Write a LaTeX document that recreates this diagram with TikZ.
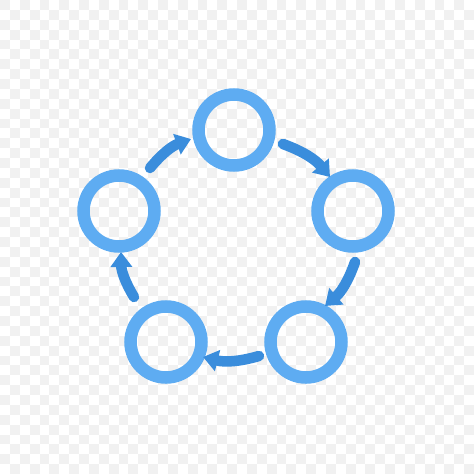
\documentclass[tikz,border=0pt]{standalone}
\usetikzlibrary{arrows.meta}
\definecolor{ringblue}{RGB}{94,172,242}
\definecolor{arrowblue}{RGB}{58,141,220}
\definecolor{checkgray}{RGB}{241,241,241}
\tikzset{
  ring/.style={circle, draw=ringblue, line width=12.5pt, minimum size=71pt, inner sep=0pt, outer sep=0pt},
  flowarrow/.style={draw=arrowblue, line width=10.5pt, line cap=round,
    -{Triangle[width=21pt,length=15pt]}, arrowblue},
}
\begin{document}
\begin{tikzpicture}[x=1pt,y=-1pt]
\useasboundingbox (0,0) rectangle (474,474);
\fill[white] (0,0) rectangle (474,474);
\foreach \i in {0,2,...,46}{
  \foreach \j in {0,2,...,46}{
    \fill[checkgray] (\i*9.875,\j*9.875) rectangle +(9.875,9.875);
    \fill[checkgray] (\i*9.875+9.875,\j*9.875+9.875) rectangle +(9.875,9.875);
  }
}
\node[ring] (c1) at (234,130) {};
\node[ring] (c2) at (353,211) {};
\node[ring] (c3) at (306,342) {};
\node[ring] (c4) at (166,342) {};
\node[ring] (c5) at (119,211) {};
\coordinate (a1s) at (150,168); \coordinate (a1e) at (191,139);
\coordinate (a2s) at (283,144); \coordinate (a2e) at (330,177);
\coordinate (a3s) at (355,262); \coordinate (a3e) at (325,306);
\coordinate (a4s) at (259,356); \coordinate (a4e) at (203,357);
\coordinate (a5s) at (134,297); \coordinate (a5e) at (121,252);
\draw[flowarrow] (a1s) to[bend left=15] (a1e);
\draw[flowarrow] (a2s) to[bend left=15] (a2e);
\draw[flowarrow] (a3s) to[bend left=15] (a3e);
\draw[flowarrow] (a4s) to[bend left=15] (a4e);
\draw[flowarrow] (a5s) to[bend left=15] (a5e);
\end{tikzpicture}
\end{document}
